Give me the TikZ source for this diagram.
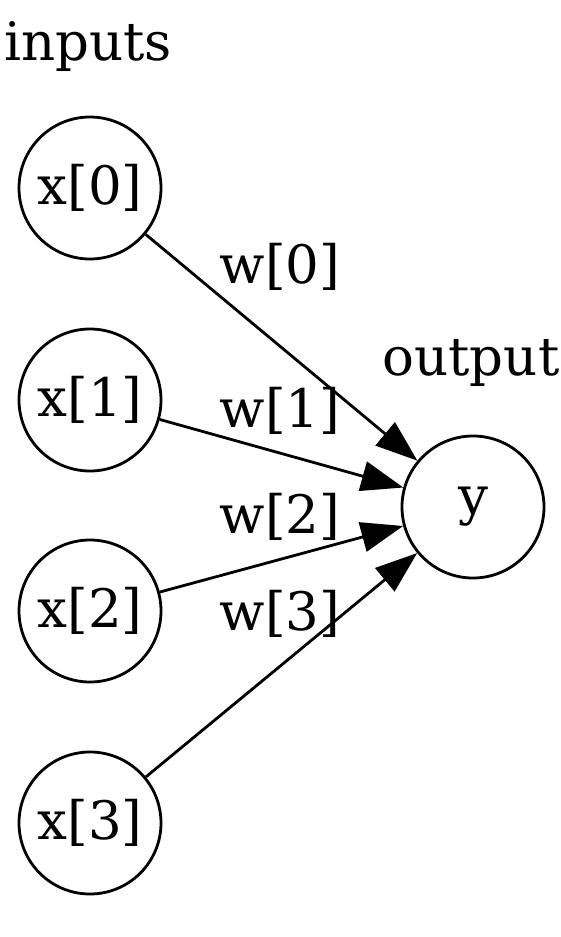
\documentclass[tikz,border=0pt]{standalone}
\usepackage{fontspec}
\setmainfont{DejaVu Serif}
\usepackage{tikz}
\usetikzlibrary{arrows.meta}
\tikzset{neuron/.style={circle, draw, line width=2.8pt, minimum size=142pt, inner sep=0pt},
  big/.style={font=\fontsize{53}{64}\selectfont}, shorten >=0pt}

\begin{document}
\begin{tikzpicture}[x=1pt, y=-1pt, line width=2.8pt, big]
    \useasboundingbox (0, 0) rectangle (561, 937);
    \node[anchor=base] (inputs) at (88, 60) {inputs};
    \node[anchor=base] (output) at (471, 375) {output};
    \node[neuron] (x0) at (90, 188) {x[0]};
    \node[neuron] (x1) at (90, 400) {x[1]};
    \node[neuron] (x2) at (90, 611) {x[2]};
    \node[neuron] (x3) at (90, 823) {x[3]};
    \node[neuron] (y) at (473, 507) {y};
    \node[anchor=base] (w0) at (280, 283) {w[0]};
    \node[anchor=base] (w1) at (280, 427) {w[1]};
    \node[anchor=base] (w2) at (280, 533) {w[2]};
    \node[anchor=base] (w3) at (280, 630) {w[3]};
    \path[-{Triangle[length=42pt, width=30pt]}]
    	(x0) edge (y)
    	(x1) edge (y)
    	(x2) edge (y)
    	(x3) edge (y)
    	;
\end{tikzpicture}
\end{document}
